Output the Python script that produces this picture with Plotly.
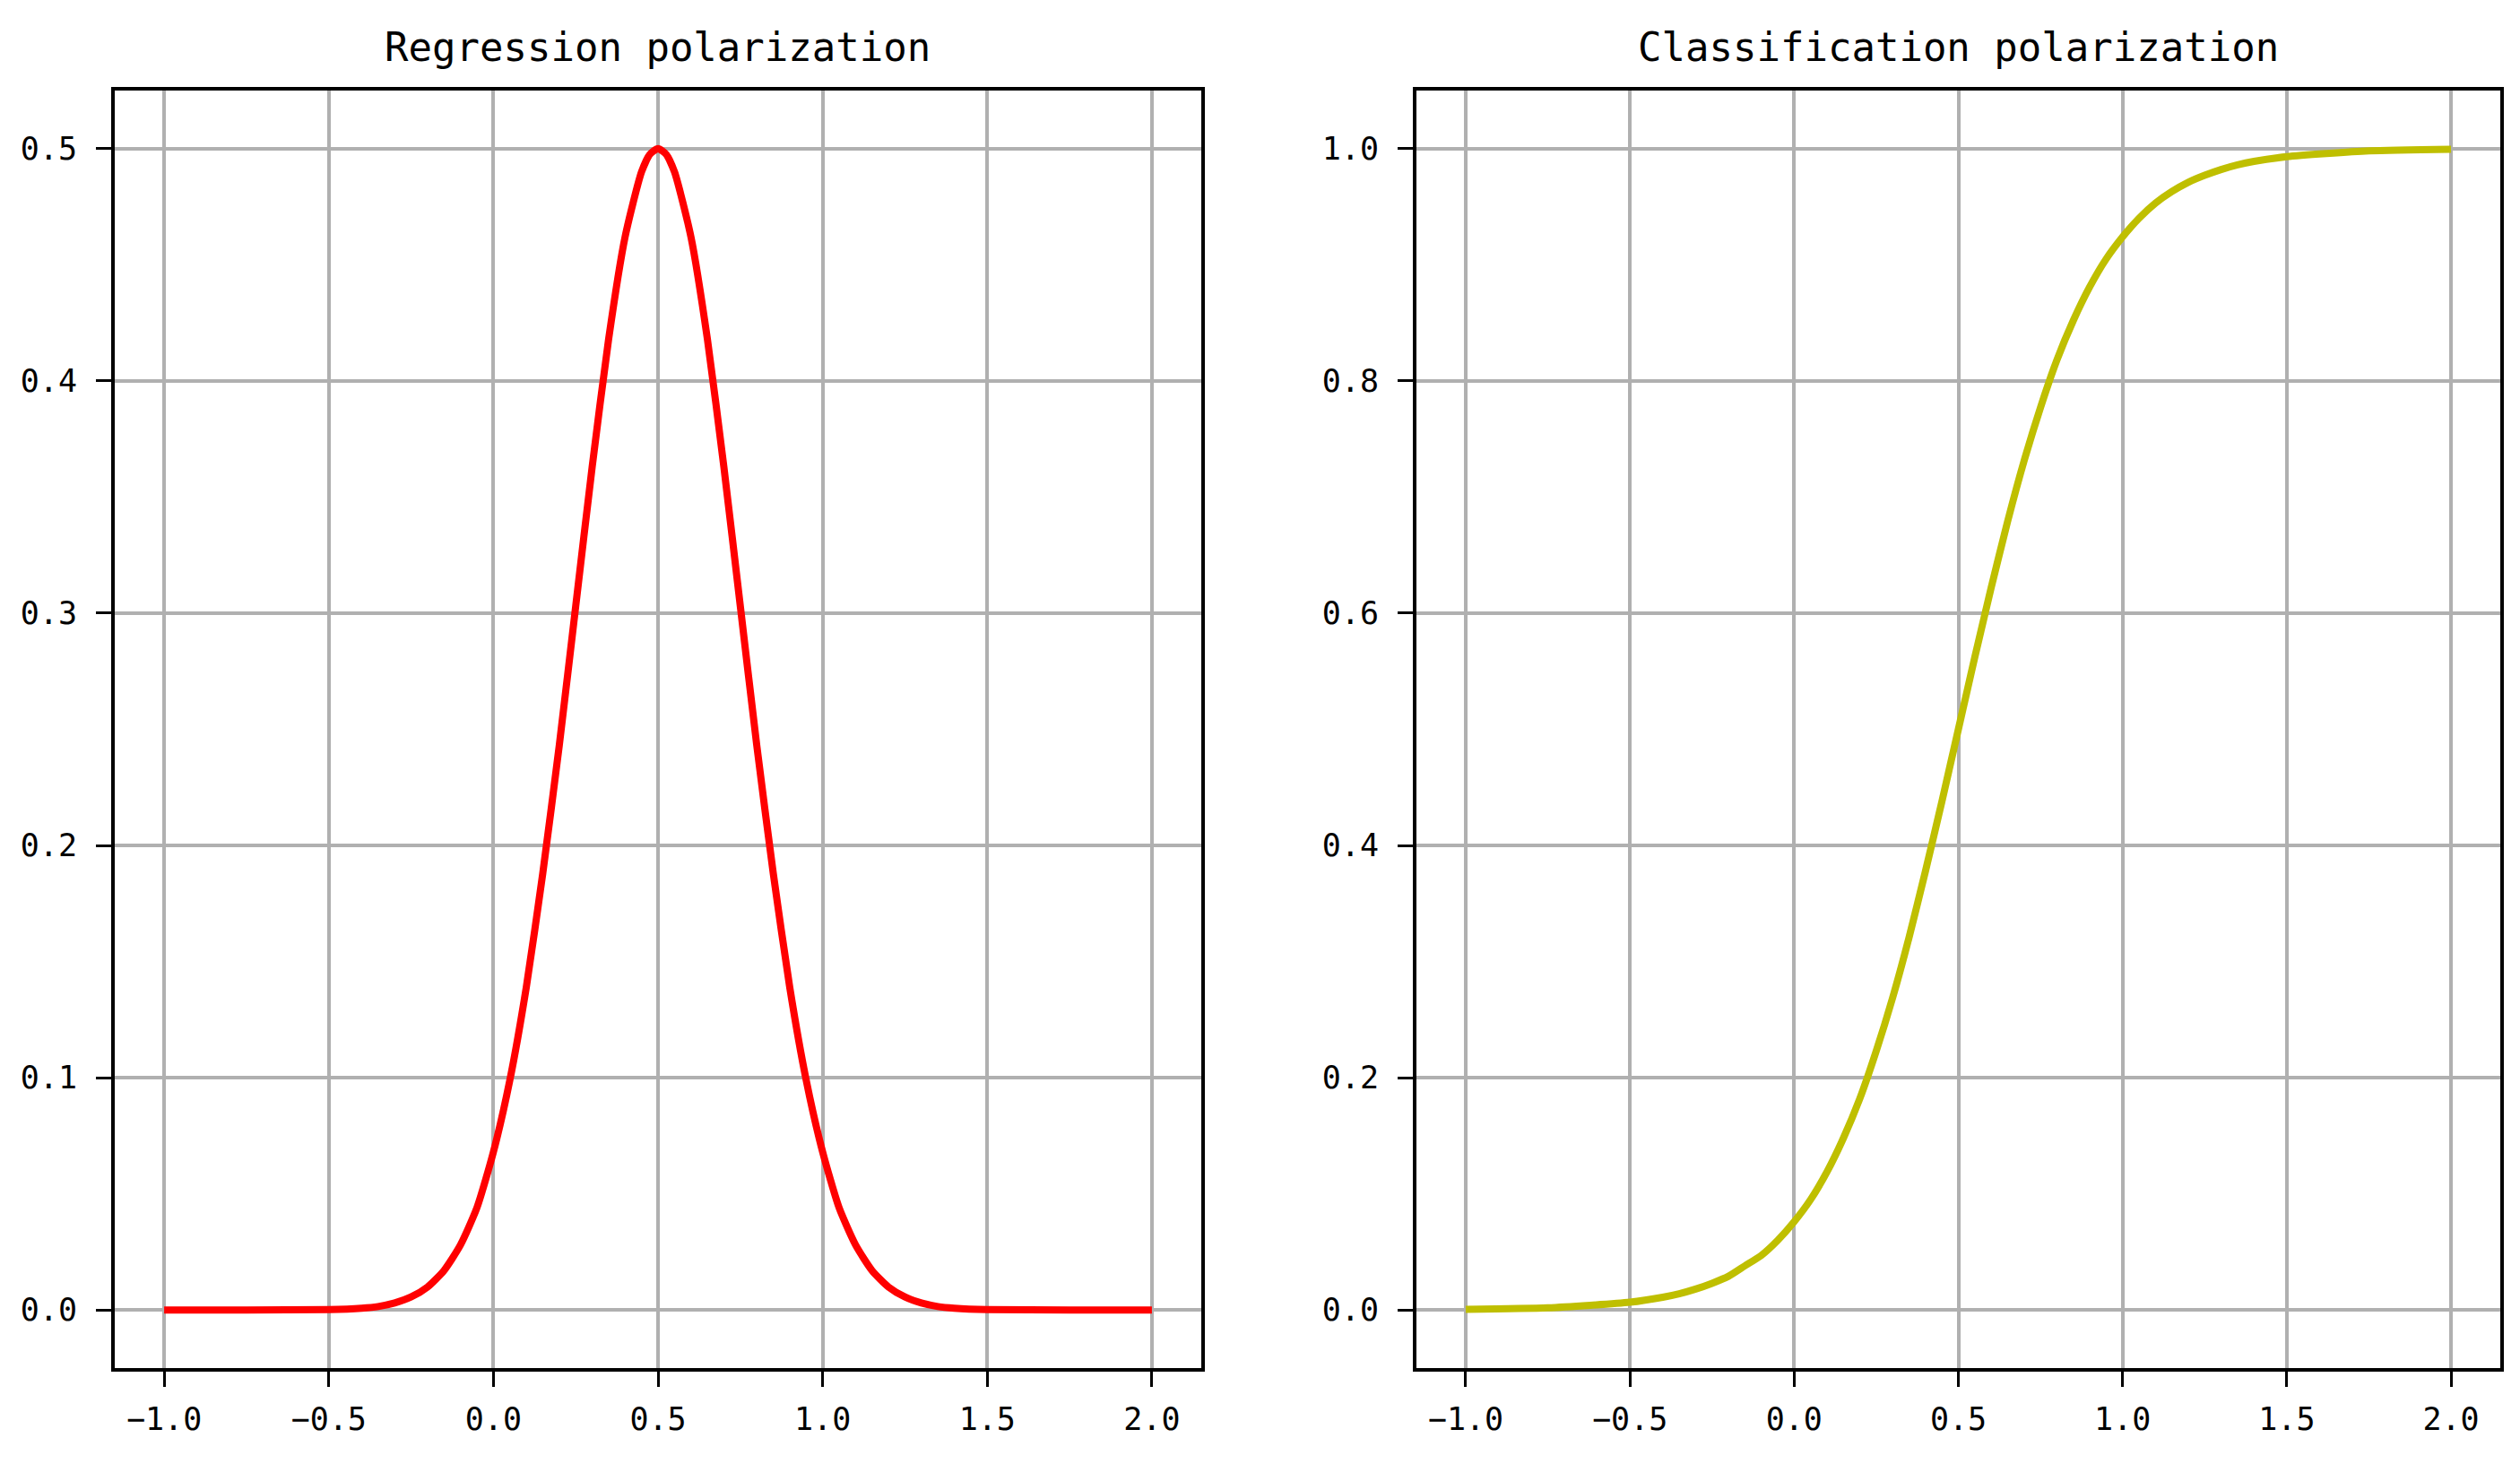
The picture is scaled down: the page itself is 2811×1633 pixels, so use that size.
import plotly.graph_objects as go

# ---- data ----
x_vals = [-1.0, -0.75, -0.5, -0.4, -0.35, -0.3, -0.25, -0.2, -0.15, -0.1, -0.05, 0.0, 0.05, 0.1,
          0.15, 0.2, 0.25, 0.3, 0.35, 0.4, 0.45, 0.475, 0.5, 0.525, 0.55, 0.6, 0.65, 0.7, 0.75,
          0.8, 0.85, 0.9, 0.95, 1.0, 1.05, 1.1, 1.15, 1.2, 1.25, 1.3, 1.35, 1.4, 1.5, 1.75, 2.0]

regression_y = [0.000, 0.000, 0.0002, 0.0008, 0.0015, 0.003, 0.0056, 0.0099, 0.017, 0.028, 0.044,
                0.068, 0.099, 0.139, 0.188, 0.243, 0.303, 0.363, 0.418, 0.462, 0.490, 0.4975,
                0.500, 0.4975, 0.490, 0.462, 0.418, 0.363, 0.303, 0.243, 0.188, 0.139, 0.099,
                0.068, 0.044, 0.028, 0.017, 0.0099, 0.0056, 0.003, 0.0015, 0.0008, 0.0002,
                0.000, 0.000]

classification_y = [0.0006, 0.0019, 0.0067, 0.011, 0.014, 0.018, 0.023, 0.029, 0.038, 0.047,
                    0.060, 0.076, 0.095, 0.119, 0.148, 0.182, 0.223, 0.269, 0.321, 0.378, 0.438,
                    0.469, 0.500, 0.531, 0.562, 0.622, 0.679, 0.731, 0.777, 0.818, 0.852, 0.881,
                    0.905, 0.924, 0.940, 0.953, 0.963, 0.971, 0.977, 0.982, 0.986, 0.989, 0.993,
                    0.998, 0.9994]

x_ticks = [-1.0, -0.5, 0.0, 0.5, 1.0, 1.5, 2.0]
x_tick_text = ["\u22121.0", "\u22120.5", "0.0", "0.5", "1.0", "1.5", "2.0"]
left_y_ticks = [0.0, 0.1, 0.2, 0.3, 0.4, 0.5]
left_y_text = ["0.0", "0.1", "0.2", "0.3", "0.4", "0.5"]
right_y_ticks = [0.0, 0.2, 0.4, 0.6, 0.8, 1.0]
right_y_text = ["0.0", "0.2", "0.4", "0.6", "0.8", "1.0"]
titles = ["Regression polarization", "Classification polarization"]

W, H = 2811, 1633
OFF = 5  # page offset
FONT = "DejaVu Sans Mono"

fig = go.Figure()
fig.add_trace(go.Scatter(x=x_vals, y=regression_y, mode="lines",
                         line=dict(color="#ff0000", width=8, shape="spline", smoothing=0.6),
                         xaxis="x", yaxis="y", showlegend=False))
fig.add_trace(go.Scatter(x=x_vals, y=classification_y, mode="lines",
                         line=dict(color="#bfbf00", width=8, shape="spline", smoothing=0.6),
                         xaxis="x2", yaxis="y2", showlegend=False))

dom_y = [1 - (1523 - OFF) / H, 1 - (98 - OFF) / H]
dom_x1 = [(125 - OFF) / W, (1337 - OFF) / W]
dom_x2 = [(1577 - OFF) / W, (2786 - OFF) / W]

common = dict(showgrid=True, gridcolor="#b0b0b0", gridwidth=3.5, zeroline=False,
              showline=True, linecolor="black", linewidth=4, mirror=True,
              ticks="outside", ticklen=17, tickwidth=3, tickcolor="black",
              tickfont=dict(family=FONT, size=35, color="black"))

fig.update_layout(
    width=W, height=H,
    margin=dict(l=0, r=0, t=0, b=0),
    paper_bgcolor="white", plot_bgcolor="white",
    xaxis=dict(domain=dom_x1, range=[-1.15, 2.15], tickmode="array",
               tickvals=x_ticks, ticktext=x_tick_text, anchor="y", ticklabelstandoff=6, **common),
    yaxis=dict(domain=dom_y, range=[-0.025, 0.525], tickmode="array",
               tickvals=left_y_ticks, ticktext=left_y_text, anchor="x", ticklabelstandoff=14, **common),
    xaxis2=dict(domain=dom_x2, range=[-1.15, 2.15], tickmode="array",
                tickvals=x_ticks, ticktext=x_tick_text, anchor="y2", ticklabelstandoff=6, **common),
    yaxis2=dict(domain=dom_y, range=[-0.05, 1.05], tickmode="array",
                tickvals=right_y_ticks, ticktext=right_y_text, anchor="x2", ticklabelstandoff=14, **common),
)

for dom, t in zip([dom_x1, dom_x2], titles):
    fig.add_annotation(text=t, xref="paper", yref="paper",
                       x=(dom[0] + dom[1]) / 2, y=1 - (49 - OFF) / H,
                       xanchor="center", yanchor="middle", showarrow=False,
                       font=dict(family=FONT, size=44, color="black"))

fig.write_html("out.html")
